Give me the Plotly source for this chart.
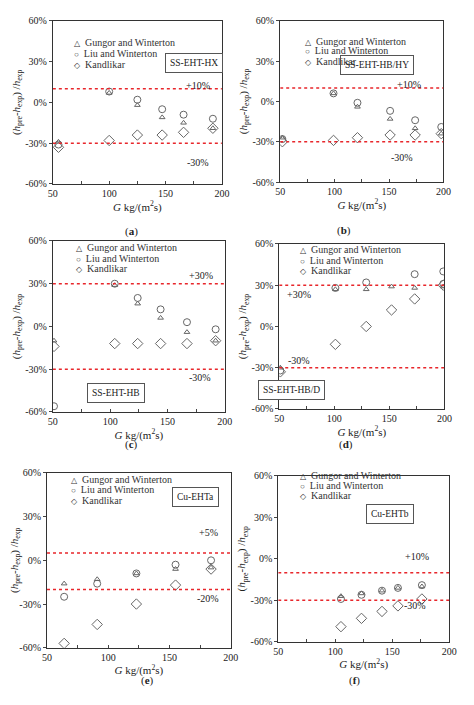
import plotly.graph_objects as go

W, H = 458, 689   # page adds an 8px body margin
OFF = 8
# panel plot-area boxes in pixels: x0, x1, y0(top), y1(bottom)
boxes = {
    "a": (49, 223, 15, 181), "b": (283, 451, 15, 179),
    "c": (49, 226, 239, 413), "d": (282, 452, 242, 410),
    "e": (43, 232, 475, 653), "f": (281, 457, 478, 647),
}
# data
a_gx = [55, 100, 125, 147, 166, 192]; a_g = [-29, 7, -2, -11, -15, -19]
a_lx = [55, 100, 125, 147, 166, 192]; a_l = [-31, 8, 2, -5, -9, -12]
a_kx = [55, 100, 125, 147, 166, 192]; a_k = [-33, -28, -24, -24, -22, -19]
b_gx = [52, 99, 121, 151, 174, 198]; b_g = [-27, 6, -4, -13, -20, -24]
b_lx = [52, 99, 121, 151, 174, 198]; b_l = [-28, 6, -1, -7, -14, -19]
b_kx = [52, 99, 121, 151, 174, 198]; b_k = [-30, -29, -27, -25, -25, -24]
c_gx = [51, 104, 124, 144, 167, 192]; c_g = [-10, 29, 16, 6, -4, -10]
c_lx = [51, 104, 124, 144, 167, 192]; c_l = [-56, 30, 20, 12, 3, -2]
c_kx = [51, 104, 124, 144, 167, 192]; c_k = [-14, -12, -12, -12, -12, -10]
d_gx = [51, 101, 129, 152, 173, 199]; d_g = [-30, 27, 27, 29, 28, 29]
d_lx = [51, 101, 129, 173, 199, 199]; d_l = [-32, 28, 32, 38, 40, 31]
d_kx = [51, 101, 129, 152, 173, 199]; d_k = [-33, -13, 0, 12, 20, 30]
e_gx = [64, 91, 123, 155, 184]; e_g = [-16, -13, -9, -6, -5]
e_lx = [64, 91, 123, 155, 184]; e_l = [-25, -16, -9, -3, 0]
e_kx = [64, 91, 123, 155, 184]; e_k = [-57, -44, -30, -17, -6]
f_gx = [105, 123, 141, 155, 176]; f_g = [-27, -25, -23, -21, -20]
f_lx = [105, 123, 141, 155, 176]; f_l = [-29, -26, -23, -21, -19]
f_kx = [105, 123, 141, 155, 176]; f_k = [-49, -43, -38, -34, -29]
lines = {"a": (10, -30), "b": (10, -30), "c": (30, -30), "d": (30, -30), "e": (5, -20), "f": (-10, -30)}
line_labels = {"a": ("+10%", "-30%"), "b": ("+10%", "-30%"), "c": ("+30%", "-30%"),
               "d": ("+30%", "-30%"), "e": ("+5%", "-20%"), "f": ("+10%", "-30%")}
names = {"a": "SS-EHT-HX", "b": "SS-EHT-HB/HY", "c": "SS-EHT-HB", "d": "SS-EHT-HB/D",
         "e": "Cu-EHTa", "f": "Cu-EHTb"}
series = ["Gungor and Winterton", "Liu and Winterton", "Kandlikar"]
x_ticks = [50, 100, 150, 200]
y_ticks = [-60, -30, 0, 30, 60]
y_tick_labels = ["-60%", "-30%", "0%", "30%", "60%"]

data = {
    "a": [(a_gx, a_g), (a_lx, a_l), (a_kx, a_k)], "b": [(b_gx, b_g), (b_lx, b_l), (b_kx, b_k)],
    "c": [(c_gx, c_g), (c_lx, c_l), (c_kx, c_k)], "d": [(d_gx, d_g), (d_lx, d_l), (d_kx, d_k)],
    "e": [(e_gx, e_g), (e_lx, e_l), (e_kx, e_k)], "f": [(f_gx, f_g), (f_lx, f_l), (f_kx, f_k)],
}
lbl_pos = {"a": ((198, 73), (198, 151)), "b": ((430, 72), (422, 146)), "c": ((202, 274), (200, 378)),
           "d": ((302, 293), (302, 361)), "e": ((209, 543), (209, 610)), "f": ((438, 568), (435, 618))}
box_pos = {"a": (194, 48), "b": (421, 50), "c": (84, 394), "d": (329, 391), "e": (196, 510), "f": (421, 527)}
leg_pos = {"a": (69, [29, 41, 52]), "b": (306, [28, 38, 49]), "c": (71, [246, 257, 267]),
           "d": (301, [248, 259, 269]), "e": (66, [489, 500, 511]), "f": (301, [485, 495, 506])}
cap_pos = {"a": (121, 221), "b": (358, 220), "c": (121, 446), "d": (360, 446), "e": (138, 695), "f": (367, 695)}

FONT = "Liberation Serif"
GREY = "#666666"
symbols = ["triangle-up-open", "circle-open", "diamond-open"]
sizes = [5, 7, 8]
glyphs = ["\u25b3", "\u25cb", "\u25c7"]

def px(x): return (x - OFF) / W
def py(y): return 1 - (y - OFF) / H

fig = go.Figure()
layout = dict(width=W, height=H, margin=dict(l=0, r=0, t=0, b=0), showlegend=False,
              plot_bgcolor="white", paper_bgcolor="white", font=dict(family=FONT, size=10, color="#222"))
ann = []
shapes = []
for i, k in enumerate("abcdef"):
    n = "" if i == 0 else str(i + 1)
    x0, x1, y0, y1 = boxes[k]
    layout["xaxis" + n] = dict(domain=[px(x0), px(x1)], range=[50, 200], tickvals=x_ticks,
                               showline=True, linecolor="#333", mirror=True, ticks="inside",
                               ticklen=3, showgrid=False, zeroline=False, anchor="y" + n,
                               minor=dict(tickvals=[75, 125, 175], ticks="inside", ticklen=3),
                               title=dict(text="<i>G</i> kg/(m<sup>2</sup>s)", standoff=2,
                                          font=dict(size=11)), tickfont=dict(size=10))
    layout["yaxis" + n] = dict(domain=[py(y1), py(y0)], range=[-60, 60], tickvals=y_ticks,
                               ticktext=y_tick_labels, showline=True, linecolor="#333", mirror=True,
                               ticks="outside", ticklen=3, showgrid=False, zeroline=False, anchor="x" + n,
                               title=dict(text="(<i>h</i><sub>pre</sub>-<i>h</i><sub>exp</sub>) /<i>h</i><sub>exp</sub>",
                                          standoff=2, font=dict(size=11)), tickfont=dict(size=10))
    for j, (xs, ys) in enumerate(data[k]):
        fig.add_trace(go.Scatter(x=xs, y=ys, mode="markers", name=series[j], xaxis="x" + n, yaxis="y" + n,
                                 marker=dict(symbol=symbols[j], size=sizes[j], color=GREY,
                                             line=dict(width=1, color=GREY))))
    for v in lines[k]:
        shapes.append(dict(type="line", xref="x" + n, yref="y" + n, x0=50, x1=200, y0=v, y1=v,
                           line=dict(color="#e8262b", width=1.5, dash="dot")))
    for t, (lx, ly) in zip(line_labels[k], lbl_pos[k]):
        ann.append(dict(text=t, x=px(lx), y=py(ly), xref="paper", yref="paper", showarrow=False,
                        font=dict(size=10)))
    bx, by = box_pos[k]
    ann.append(dict(text=names[k], x=px(bx), y=py(by), xref="paper", yref="paper", showarrow=False,
                    bordercolor="#555", borderwidth=1, borderpad=4, bgcolor="white", font=dict(size=9.5)))
    lx, rows = leg_pos[k]
    for j in range(3):
        ann.append(dict(text="<span style='font-size:8px'>" + glyphs[j] + "</span>  " + series[j],
                        x=px(lx), y=py(rows[j]), xref="paper", yref="paper",
                        showarrow=False, xanchor="left", font=dict(size=10, color="#333")))
    cx, cy = cap_pos[k]
    ann.append(dict(text="(<b>" + k + "</b>)", x=px(cx), y=py(cy), xref="paper", yref="paper",
                    showarrow=False, font=dict(size=11)))
layout["annotations"] = ann
layout["shapes"] = shapes
fig.update_layout(**layout)
fig.write_html("out.html")
